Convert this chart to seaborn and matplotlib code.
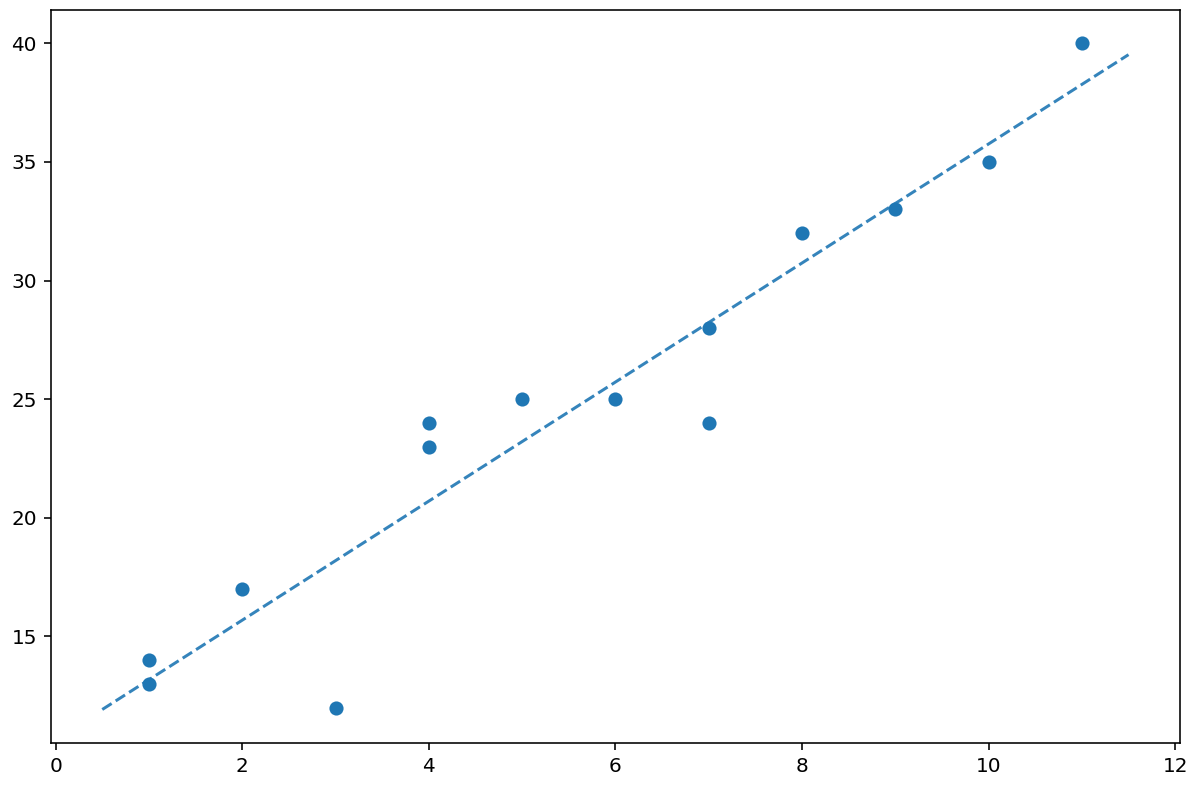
import numpy as np
import pandas as pd
import matplotlib
matplotlib.use("Agg")
import matplotlib.pyplot as plt
import seaborn as sns

# Observed points
x_vals = [1, 1, 2, 3, 4, 4, 5, 6, 7, 7, 8, 9, 10, 11]
y_vals = [13, 14, 17, 12, 23, 24, 25, 25, 24, 28, 32, 33, 35, 40]

# Range of the fitted line
line_x = [0.5, 11.5]

df = pd.DataFrame({"x": x_vals, "y": y_vals})

# Least squares line
slope, intercept = np.polyfit(df["x"], df["y"], 1)
fit = pd.DataFrame({"x": line_x})
fit["y"] = slope * fit["x"] + intercept

fig, ax = plt.subplots(figsize=(1199 / 144, 797 / 144), dpi=144)
fig.subplots_adjust(left=0.0425, right=0.984, top=0.9875, bottom=0.068)

sns.scatterplot(data=df, x="x", y="y", s=50, color="#1f77b4",
                linewidth=0, ax=ax)
sns.lineplot(data=fit, x="x", y="y", linestyle="--", color="#1f77b4",
             alpha=0.9, ax=ax)

ax.set_xlabel("")
ax.set_ylabel("")
ax.set_xticks([0, 2, 4, 6, 8, 10, 12])
ax.set_yticks([15, 20, 25, 30, 35, 40])

fig.savefig("out.png", dpi=144)
